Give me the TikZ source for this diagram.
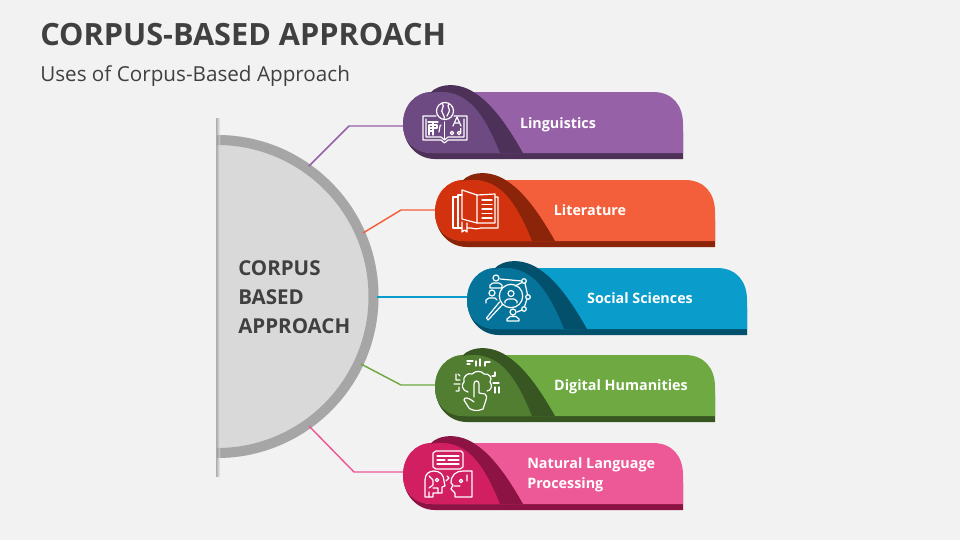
\documentclass[tikz,border=0pt]{standalone}
\usepackage{fontspec}
\setmainfont{Open Sans}
\definecolor{pageBg}{HTML}{F2F2F2}
\definecolor{inkGray}{HTML}{404040}
\definecolor{hubFill}{HTML}{D9D9D9}
\definecolor{hubRing}{HTML}{A6A6A6}
\definecolor{purpleMain}{HTML}{9761A8}
\definecolor{purpleIcon}{HTML}{6E4A82}
\definecolor{purpleBand}{HTML}{4E3159}
\definecolor{orangeMain}{HTML}{F35F3A}
\definecolor{orangeIcon}{HTML}{D2330E}
\definecolor{orangeBand}{HTML}{8C2409}
\definecolor{blueMain}{HTML}{0A9DCB}
\definecolor{blueIcon}{HTML}{06749A}
\definecolor{blueBand}{HTML}{03506C}
\definecolor{greenMain}{HTML}{6EAA41}
\definecolor{greenIcon}{HTML}{517E30}
\definecolor{greenBand}{HTML}{375621}
\definecolor{pinkMain}{HTML}{EC5996}
\definecolor{pinkIcon}{HTML}{D11F62}
\definecolor{pinkBand}{HTML}{8C1343}
\tikzset{
  link/.style={line width=1.1pt},
  label/.style={text=white,font=\bfseries\fontsize{10.75}{15.5}\selectfont,inner sep=0pt},
  glyph/.style={draw=white,line width=0.9pt,line join=round,line cap=round},
}
% one bar: x, y of its top left corner, then the three colours
\newcommand{\drawbar}[5]{
\begin{scope}[shift={(#1,#2)}]
\fill[#5] (0,32) .. controls (0,52) and (14,67) .. (32,67) -- (280,67) -- (280,40) -- (30,40) -- cycle;
\fill[#3] (29,0) -- (250,0) .. controls (270,0) and (280,14) .. (280,32) -- (280,61) -- (30,61) .. controls (10,61) and (0,48) .. (0,32) .. controls (0,14) and (12,0) .. (29,0) -- cycle;
\fill[#4] (29,0) -- (70,0) -- (110,61) -- (30,61) .. controls (10,61) and (0,48) .. (0,32) .. controls (0,14) and (12,0) .. (29,0) -- cycle;
\fill[#5] (27,1) .. controls (36,-9) and (56,-10) .. (72,1) .. controls (92,14) and (108,40) .. (120,61) -- (97,61) .. controls (88,38) and (78,20) .. (66,10) .. controls (54,0) and (40,-2) .. (27,1) -- cycle;
\end{scope}
}
\begin{document}
\begin{tikzpicture}[x=0.75pt,y=-0.75pt]
\useasboundingbox (0,0) rectangle (960,540);
\fill[pageBg] (0,0) rectangle (960,540);
% title
\node[anchor=base west,inner sep=0pt,text=inkGray,font=\bfseries\fontsize{23}{28}\selectfont] (title) at (40,45) {CORPUS-BASED APPROACH};
\node[anchor=base west,inner sep=0pt,text=inkGray,font=\fontsize{15.5}{18}\selectfont] (subtitle) at (40,81) {Uses of Corpus-Based Approach};
% half disc
\fill[hubFill] (217,135) arc (-90:90:161.5) -- cycle;
\draw[hubRing,line width=7.5pt] (217,140) arc (-90:90:156.5);
\shade[left color=black!50,right color=black!5,opacity=.6] (216,118) rectangle (220,476);
\node[anchor=base west,inner sep=0pt,text=inkGray,align=left,font=\bfseries\fontsize{15.4}{21.7}\selectfont] (hub) at (238,333) {CORPUS\\BASED\\APPROACH};
% bars
\drawbar{403}{92}{purpleMain}{purpleIcon}{purpleBand}
\drawbar{435}{180}{orangeMain}{orangeIcon}{orangeBand}
\drawbar{467}{268}{blueMain}{blueIcon}{blueBand}
\drawbar{435}{355}{greenMain}{greenIcon}{greenBand}
\drawbar{403}{443}{pinkMain}{pinkIcon}{pinkBand}
\node[label] (linguistics) at (558,125) {Linguistics};
\node[label] (literature) at (590,210) {Literature};
\node[label] (social) at (640,298) {Social Sciences};
\node[label] (digital) at (621,387) {Digital Humanities};
\node[label,align=left,anchor=north west] (language) at (527,457) {Natural Language\\Processing};
% connectors
\coordinate (hubA) at (309,166);
\coordinate (kneeA) at (349,126);
\coordinate (barA) at (403,126);
\coordinate (hubB) at (363,233);
\coordinate (kneeB) at (401,210);
\coordinate (barB) at (435,210);
\coordinate (hubC) at (377,297);
\coordinate (barC) at (467,297);
\coordinate (hubD) at (361,364);
\coordinate (kneeD) at (401,385);
\coordinate (barD) at (435,385);
\coordinate (hubE) at (309,426);
\coordinate (kneeE) at (354,472);
\coordinate (barE) at (403,472);
\draw[link,purpleMain] (hubA)--(kneeA)--(barA);
\draw[link,orangeMain] (hubB)--(kneeB)--(barB);
\draw[link,blueMain] (hubC)--(barC);
\draw[link,greenMain] (hubD)--(kneeD)--(barD);
\draw[link,pinkMain] (hubE)--(kneeE)--(barE);
% icon: open book with globe
\begin{scope}[shift={(403,92)},glyph]
\draw (42,19) circle (8.5);
\draw (39,11) .. controls (43,15) and (36,18) .. (40,22) .. controls (42,24) and (41,26) .. (41,27.5);
\draw (46,11.5) .. controls (43,15) and (48,17) .. (46,20) -- (44,24);
\draw (33,24)--(20,24)--(20,48)--(38,48)--(41.5,51)--(45,48)--(64,48)--(64,24)--(51,24);
\draw (23,27)--(23,45)--(38,45)--(41.5,48)--(45,45)--(61,45)--(61,27);
\draw (41.5,30)--(41.5,47);
\draw (25,30)--(35,30) (26,33)--(34,33) (26,36)--(34,36) (26,33)--(26,43) (34,33)--(34,36) (30,30)--(30,43) (26,39)--(30,39);
\draw (36,40)--(37,34)--(38,33);
\draw (50,34)--(54,25)--(58,34) (51.5,31)--(56.5,31);
\draw (49,41) circle (1.7) (56,41) circle (1.7) (57.7,41)--(57.7,36.5);
\end{scope}
% icon: book with pages
\begin{scope}[shift={(435,180)},glyph]
\draw (27,10)--(42,15)--(42,43)--(27,39)--cycle;
\draw (42,15)--(60,14)--(60,43)--(42,43);
\draw (47,20)--(57,20) (47,24.5)--(57,24.5) (47,29)--(57,29) (47,33.5)--(57,33.5) (47,38)--(57,38);
\draw (27,15)--(23,15)--(23,47);
\draw (23,17)--(18,17)--(18,48)--(27,48);
\draw (60,17)--(63,17)--(63,48)--(46,48) .. controls (42,49) and (40,49) .. (36,48)--(32,48);
\draw (27,42)--(27,52)--(29.5,50)--(32,52)--(32,43);
\end{scope}
% icon: people under a magnifier
\begin{scope}[shift={(467,268)},glyph]
\draw (44,28) circle (11.7);
\draw (44,25.5) circle (3) (38,35)--(38,33)--(41,31)--(47,31)--(50,33)--(50,35);
\draw (35.5,36.5)--(23,50)--(21,52)--(19.5,50)--(32.5,34);
\draw (29,10) circle (3) (23,20)--(23,17)--(26,15)--(32,15)--(35,17)--(35,20)--cycle;
\draw (25,25) circle (3) (19,35)--(19,32)--(22,30)--(28,30)--(30,32);
\draw (46,44) circle (3) (40,53)--(40,51)--(43,48.5)--(49,48.5)--(52,51)--(52,53)--cycle;
\draw (57,13) circle (2.3) (61,29) circle (2.3) (57,41) circle (2.3);
\draw (33,11)--(54.7,13) (55,14.5)--(48,18) (58,15)--(60.5,26.7) (60,31)--(57.5,38.7) (55,42)--(50,44);
\end{scope}
% icon: hand on a brain with circuits
\begin{scope}[shift={(435,355)},glyph]
\draw (33,37) .. controls (27,36) and (26,29) .. (29,27) .. controls (27,22) and (33,17) .. (37,19) .. controls (41,15) and (47,16) .. (49,19) .. controls (54,18) and (58,23) .. (55,27) .. controls (58,30) and (56,36) .. (52,36);
\draw (39,42)--(39,29) .. controls (39,25) and (44,25) .. (44,29)--(44,38)--(50,39) .. controls (52,40) and (52,43) .. (51,45)--(48,54) .. controls (42,57) and (36,55) .. (34,53)--(29,45) .. controls (29,42) and (33,42) .. (39,47);
\draw (32,6)--(38,6) (32,9)--(35,9) (45,4)--(45,11) (41,6)--(41,11) (50,7)--(55,7) (50,7)--(50,11);
\draw (21,19)--(21,25)--(25,25) (19,29)--(25,29) (24,32)--(24,36)--(21,36) (23,19)--(25,21);
\draw (57,21)--(60,21)--(60,17) (58,28)--(64,28) (60,32)--(60,38) (64,32)--(64,38);
\end{scope}
% icon: two heads and a text panel
\begin{scope}[shift={(403,443)},glyph]
\draw (33,26)--(30,24)--(30,10)--(33,8)--(58,8)--(60,10)--(60,24)--(57,26)--cycle;
\draw (34,13)--(56,13) (34,17)--(42,17) (45,17)--(56,17) (34,21)--(56,21);
\draw (30,54)--(22,54)--(22,37) .. controls (22,31) and (26,28) .. (31,28) .. controls (37,28) and (41,32) .. (41,38)--(42,43)--(39,44)--(39,50)--(30,50)--cycle;
\draw (34,37) circle (1.8) (26,33)--(30,37)--(30,42)--(26,45) (26,49)--(26,54) (30,45)--(35,45)--(35,50);
\draw (52,54)--(52,50)--(48,46)--(50,42)--(48,40) .. controls (48,32) and (53,28) .. (60,28)--(69,28)--(69,54)--cycle;
\draw (58,38) circle (1.8) (51,43)--(57,43) (64,32)--(64,38);
\draw (44,33)--(46,35)--(43,38);
\end{scope}
\end{tikzpicture}
\end{document}
